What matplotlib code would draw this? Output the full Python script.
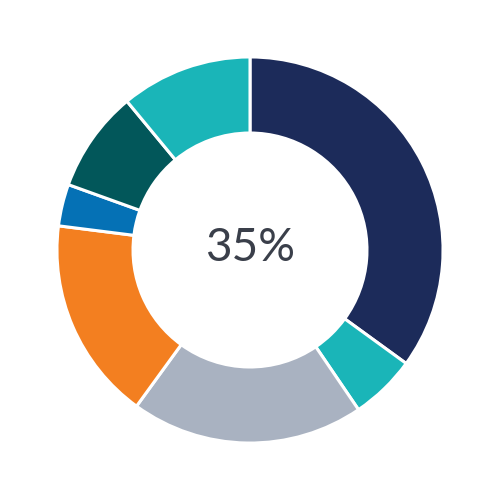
import matplotlib.pyplot as plt

shares = [35, 5.5, 19.5, 17, 3.5, 8.5, 11]
colors = ['#1c2b5a', '#1ab5b8', '#a9b2c1', '#f37f20', '#0571b5', '#02575a', '#1ab5b8']
center_label = '35%'

fig = plt.figure(figsize=(5, 5), dpi=100)
ax = fig.add_axes([0, 0, 1, 1])
ax.pie(shares, colors=colors, startangle=90, counterclock=False, radius=1,
       wedgeprops=dict(width=0.394, edgecolor='white', linewidth=2.2))
ax.text(0, 0.01, center_label, ha='center', va='center', fontsize=33,
        color='#3a3f4a', family='Lato', fontweight='normal')
ax.set_xlim(-1.295, 1.295)
ax.set_ylim(-1.295, 1.295)
ax.set_aspect('equal')
ax.axis('off')
fig.savefig('out.png', dpi=100, facecolor='white')
